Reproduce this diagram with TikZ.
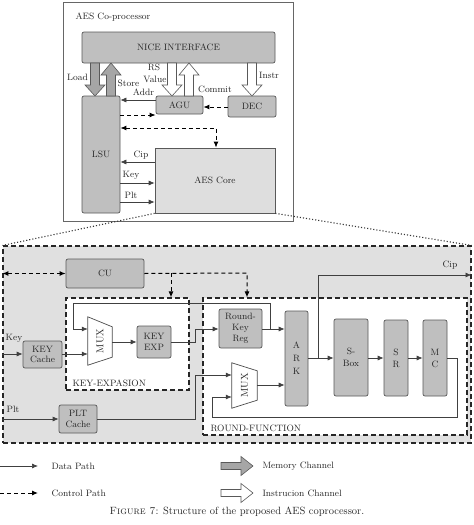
\documentclass[tikz,border=0pt]{standalone}
\usetikzlibrary{arrows.meta,calc}
\newcommand\mybox[6]{\node[#6, minimum width={(#4-#2)*1pt}, minimum height={(#5-#3)*1pt}] (#1) at ({(#2+#4)/2},{(#3+#5)/2})}
% vertical fat arrow: x, tail y, head base y, tip y, fill
\newcommand\vfat[5]{\draw[fat, fill=#5] (#1-4.5,#2) -- (#1-4.5,#3) -- (#1-10,#3) -- (#1,#4) -- (#1+10,#3) -- (#1+4.5,#3) -- (#1+4.5,#2) -- cycle;}
% horizontal fat arrow: tail x, head base x, tip x, y, fill
\newcommand\hfat[5]{\draw[fat, fill=#5] (#1,#4-3.5) -- (#2,#4-3.5) -- (#2,#4-9.5) -- (#3,#4) -- (#2,#4+9.5) -- (#2,#4+3.5) -- (#1,#4+3.5) -- cycle;}
\tikzset{
 base/.style={font=\fontsize{9.2}{10.5}\selectfont, text=black!85},
 gbox/.style={draw=black!65, fill=black!25, rounded corners=2pt, line width=0.7pt, align=center, inner sep=1pt},
 lbox/.style={gbox, fill=black!13, rounded corners=0pt},
 dbox/.style={draw=black!85, dash pattern=on 5pt off 3pt, line width=1.1pt},
 data/.style={draw=black!75, line width=0.7pt, -{Latex[length=6pt,width=5pt]}},
 ctrl/.style={draw=black, line width=1pt, dash pattern=on 4pt off 3pt, -{Latex[length=6pt,width=5pt]}},
 ctrlbi/.style={ctrl, {Latex[length=6pt,width=5pt]}-{Latex[length=6pt,width=5pt]}},
 fat/.style={draw=black!65, line width=0.6pt},
 muxs/.style={draw=black!70, fill=white, line width=0.7pt},
}
\begin{document}
\begin{tikzpicture}[x=1pt,y=-1pt, every node/.style={base}]
\useasboundingbox (0,0) rectangle (474,525);

% ---------- top: AES co-processor ----------
\mybox{cop}{63}{2}{293}{221}{draw=black!60, fill=white, line width=0.8pt}{};
\node[anchor=west] (coplab) at (72,17) {AES Co-processor};
\mybox{nice}{82}{32}{275}{63}{gbox}{NICE INTERFACE};
\mybox{lsu}{82}{96}{120}{213}{gbox}{LSU};
\mybox{agu}{156}{96}{203}{114}{gbox}{AGU};
\mybox{dec}{228}{96}{276}{117}{gbox}{DEC};
\mybox{aes}{155}{148}{275}{213}{lbox}{AES Core};

% fat channel arrows
\vfat{95}{63}{85}{96}{black!35}
\vfat{111}{96}{75}{63}{black!35}
\vfat{172}{63}{85}{96}{white}
\vfat{189}{96}{75}{63}{white}
\vfat{252}{63}{85}{96}{white}
\node (tload) at (77.5,77) {Load};
\node (tstore) at (128.5,83.5) {Store};
\node (trs) at (154,67) {RS};
\node (tval) at (155,79.5) {Value};
\node (tcommit) at (215,89.5) {Commit};
\node (tinstr) at (269,75) {Instr};

% thin connectors
\draw[data] (agu.west |- 0,100) -- (lsu.east |- 0,100);
\node (taddr) at (143.5,92.5) {Addr};
\draw[ctrl] (dec.west |- 0,107) -- (agu.east |- 0,107);
\draw[ctrl] (lsu.east |- 0,115) -- (agu.west |- 0,115);
\coordinate (c1) at (216,128);
\draw[ctrlbi] (lsu.east |- c1) -- (c1) -- (c1 |- aes.north);
\draw[data] (aes.west |- 0,162) -- (lsu.east |- 0,162);
\node (tcip) at (141,155) {Cip};
\draw[data] (lsu.east |- 0,183) -- (aes.west |- 0,183);
\node (tkey) at (131,175) {Key};
\draw[data] (lsu.east |- 0,202) -- (aes.west |- 0,202);
\node (tplt) at (131,195) {Plt};

% ---------- bottom: AES core detail ----------
\mybox{low}{3}{246}{471}{443}{dbox, fill=black!12}{};
\draw[dotted, line width=1.1pt, black!80] (aes.south west) -- (low.north west);
\draw[dotted, line width=1.1pt, black!80] (aes.south east) -- (low.north east);

\mybox{cu}{66}{259}{144}{288}{gbox}{CU};
\mybox{kx}{66}{298}{189}{390}{dbox, fill=white}{};
\node[anchor=west] (kxlab) at (69,383) {KEY-EXPASION};
\mybox{rf}{203}{298}{467}{435}{dbox, fill=white}{};
\node[anchor=west] (rflab) at (207,428) {ROUND-FUNCTION};

\mybox{kc}{23}{341}{62}{368}{gbox}{KEY\\Cache};
\mybox{plt}{59}{405}{97}{433}{gbox}{PLT\\Cache};
\mybox{ke}{137}{326}{171}{358}{gbox}{KEY\\EXP};
\mybox{rkr}{219}{309}{262}{348}{gbox, font=\fontsize{9.2}{11}\selectfont}{Round-\\Key\\Reg};
\mybox{ark}{285}{311}{308}{406}{gbox, font=\fontsize{9.2}{13}\selectfont}{A\\R\\K};
\mybox{sbox}{334}{319}{368}{396}{gbox, font=\fontsize{9.2}{12}\selectfont}{S-\\Box};
\mybox{sr}{384}{320}{408}{396}{gbox, font=\fontsize{9.2}{12}\selectfont}{S\\R};
\mybox{mc}{423}{320}{447}{396}{gbox, font=\fontsize{9.2}{12}\selectfont}{M\\C};

% multiplexers
\mybox{mux1}{88}{317}{112}{365}{draw=none, inner sep=0pt}{};
\draw[muxs] (mux1.north west) -- ([yshift=-10pt]mux1.north east) -- ([yshift=8pt]mux1.south east) -- (mux1.south west) -- cycle;
\node[rotate=90, font=\fontsize{10}{11}\selectfont] (mux1t) at (mux1.center) {MUX};
\mybox{mux2}{232}{363}{257}{408}{draw=none, inner sep=0pt}{};
\draw[muxs] (mux2.north west) -- ([yshift=-8pt]mux2.north east) -- ([yshift=8pt]mux2.south east) -- (mux2.south west) -- cycle;
\node[rotate=90, font=\fontsize{10}{11}\selectfont] (mux2t) at (mux2.center) {MUX};

% control paths
\draw[ctrlbi] (low.west |- cu.west) -- (cu.west);
\coordinate (c2) at (171,273);
\coordinate (c3) at (247,273);
\draw[ctrl] (cu.east) -- (c3) -- (c3 |- rf.north);
\draw[ctrl] (c2) -- (c2 |- kx.north);

% data paths
\draw[data] (low.west |- 0,354) -- (kc.west |- 0,354);
\node (tkey2) at (14,338) {Key};
\draw[data] (kc.east |- 0,354) -- (mux1.west |- 0,354);
\coordinate (f1) at (270,329);
\coordinate (f2) at (270,303);
\coordinate (f3) at (73,303);
\coordinate (f4) at (73,329);
\draw[data] (f1) -- (f2) -- (f3) -- (f4) -- (mux1.west |- f4);
\draw[data] (mux1.east |- 0,342) -- (ke.west |- 0,342);
\coordinate (k1) at (195,342);
\coordinate (k2) at (195,329);
\draw[data] (ke.east |- k1) -- (k1) -- (k2) -- (rkr.west |- k2);
\draw[data] (rkr.east |- 0,329) -- (ark.west |- 0,329);
\draw[data] (mux2.east |- 0,385) -- (ark.west |- 0,385);
\draw[data] (ark.east |- 0,358) -- (sbox.west |- 0,358);
\coordinate (p1) at (318,358);
\coordinate (p2) at (318,275);
\draw[data] (p1) -- (p2) -- (low.east |- p2);
\node (tcip2) at (450,265) {Cip};
\draw[data] (sbox.east |- 0,358) -- (sr.west |- 0,358);
\draw[data] (sr.east |- 0,358) -- (mc.west |- 0,358);
\coordinate (m1) at (457,358);
\coordinate (m2) at (457,417);
\coordinate (m3) at (212,417);
\coordinate (m4) at (212,397);
\draw[data] (mc.east |- m1) -- (m1) -- (m2) -- (m3) -- (m4) -- (mux2.west |- m4);
\draw[data] (low.west |- 0,419) -- (plt.west |- 0,419);
\node (tplt2) at (13,409) {Plt};
\coordinate (q1) at (195,419);
\coordinate (q2) at (195,375);
\draw[data] (plt.east |- q1) -- (q1) -- (q2) -- (mux2.west |- q2);

% ---------- legend ----------
\coordinate (l1a) at (0,466);
\coordinate (l1b) at (38,466);
\draw[data] (l1a) -- (l1b);
\node[anchor=west] (l1t) at (48,466) {Data Path};
\coordinate (l2a) at (0,493);
\coordinate (l2b) at (38,493);
\draw[ctrl] (l2a) -- (l2b);
\node[anchor=west] (l2t) at (48,493) {Control Path};
\hfat{221}{241}{253}{466}{black!35}
\node[anchor=west] (l3t) at (259,466) {Memory Channel};
\hfat{221}{241}{253}{493}{white}
\node[anchor=west] (l4t) at (259,493) {Instrucion Channel};
\node[font=\fontsize{10.5}{12}\selectfont] (cap) at (237,512) {\textsc{Figure 7}: Structure of the proposed AES coprocessor.};
\end{tikzpicture}
\end{document}
